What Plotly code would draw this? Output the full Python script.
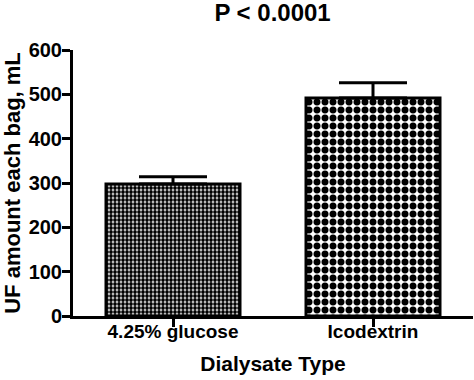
import plotly.graph_objects as go

categories = ["4.25% glucose", "Icodextrin"]
uf_means = [298, 492]
uf_sem = [16, 34]
y_ticks = [0, 100, 200, 300, 400, 500, 600]

FONT = "Liberation Sans, Arial, sans-serif"

fig = go.Figure()
fig.add_trace(go.Bar(
    x=categories,
    y=uf_means,
    width=0.67,
    marker=dict(
        color="white",
        line=dict(color="black", width=3),
        pattern=dict(shape=".", size=[4, 8], solidity=[0.7, 0.6],
                     fgcolor="black", bgcolor="white", fillmode="replace"),
    ),
    error_y=dict(type="data", array=uf_sem, arrayminus=[0, 0], symmetric=False,
                 color="black", thickness=3, width=34),
    showlegend=False,
))

fig.update_layout(
    width=474, height=380,
    margin=dict(l=73, r=1, t=50, b=64),
    paper_bgcolor="white", plot_bgcolor="white",
    font=dict(family=FONT, color="black"),
    title=dict(text="<b>P < 0.0001</b>", x=0.575, xanchor="center",
               y=0.99, yanchor="top", yref="container",
               font=dict(size=24, family=FONT, color="black")),
    xaxis=dict(
        range=[-0.5, 1.5], showline=True, linecolor="black", linewidth=3,
        ticks="outside", ticklen=8, tickwidth=3, tickcolor="black",
        ticklabelstandoff=-12,
        showgrid=False, zeroline=False,
        tickfont=dict(size=19, family=FONT, color="black"),
        tickvals=categories, ticktext=["<b>%s</b>" % c for c in categories],
        title=dict(text="<b>Dialysate Type</b>", standoff=16,
                   font=dict(size=21, family=FONT, color="black")),
    ),
    yaxis=dict(
        range=[0, 600], showline=True, linecolor="black", linewidth=3,
        ticks="outside", ticklen=8, tickwidth=3, tickcolor="black",
        ticklabelstandoff=-4,
        showgrid=False, zeroline=False,
        tickvals=y_ticks, ticktext=["<b>%d</b>" % v for v in y_ticks],
        tickfont=dict(size=20, family=FONT, color="black"),
        title=dict(text="<b>UF amount each bag, mL</b>", standoff=8,
                   font=dict(size=22, family=FONT, color="black")),
    ),
)

fig.write_html("out.html")
